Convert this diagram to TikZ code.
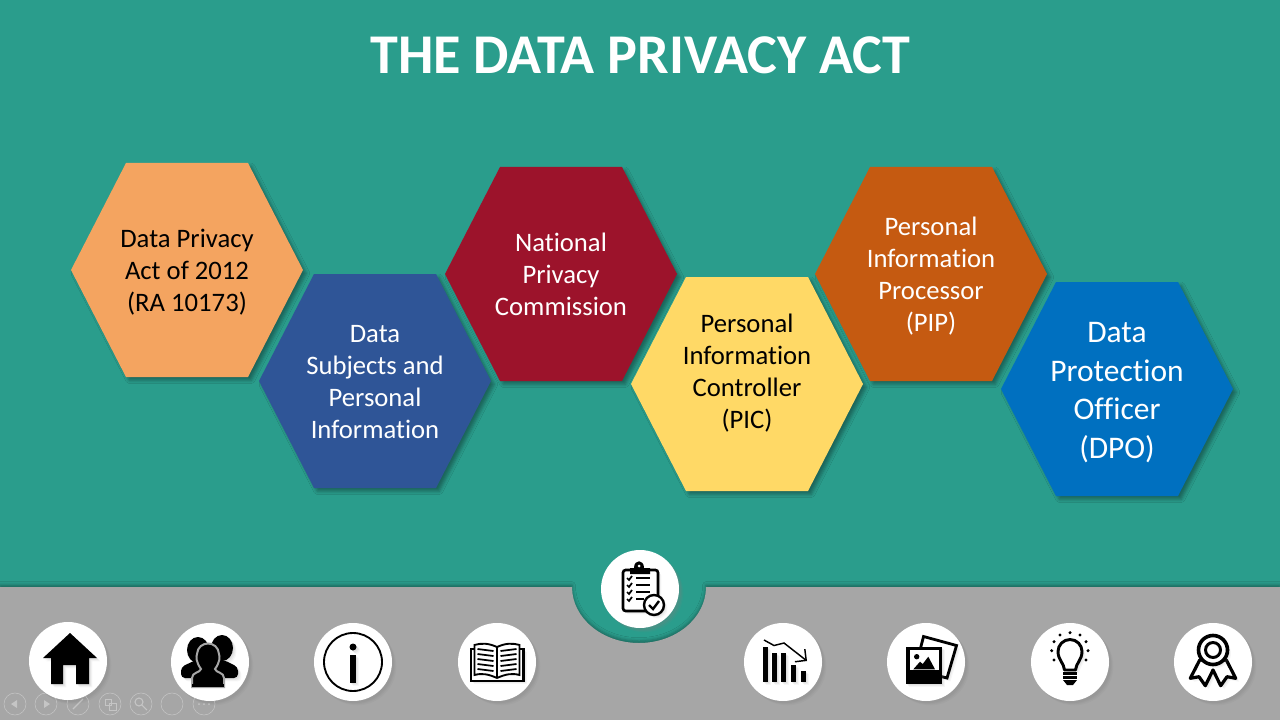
\documentclass[tikz,border=0pt]{standalone}
\usepackage{fontspec}
\setmainfont[Ligatures=NoCommon]{Carlito}
\usetikzlibrary{shadows,shadows.blur,arrows.meta}
\definecolor{teal1}{HTML}{2A9D8C}
\definecolor{panel}{HTML}{A6A6A6}
\definecolor{orange1}{HTML}{F4A460}
\definecolor{navy1}{HTML}{2F5597}
\definecolor{crimson1}{HTML}{9C132B}
\definecolor{yellow1}{HTML}{FFD966}
\definecolor{rust1}{HTML}{C55A11}
\definecolor{blue1}{HTML}{0070C0}
\tikzset{
	hexbox/.style={blur shadow={shadow xshift=2.5pt, shadow yshift=-2.5pt, shadow blur radius=2.5pt, shadow opacity=35}, insert path={(-116,0) -- (-61,-107) -- (61,-107) -- (116,0) -- (61,107) -- (-61,107) -- cycle}},
	hextext/.style={align=center, font=\fontsize{20pt}{24pt}\selectfont},
	disc/.style={circle, fill=white, minimum size=58.5pt, inner sep=0pt, drop shadow={shadow xshift=3.2pt, shadow yshift=-3.2pt, opacity=.1}, drop shadow={shadow xshift=2.4pt, shadow yshift=-2.4pt, opacity=.12}, drop shadow={shadow xshift=1.6pt, shadow yshift=-1.6pt, opacity=.15}},
	toolbtn/.style={circle, draw=white, draw opacity=.35, minimum size=16.5pt, inner sep=0pt},
	soft/.style={drop shadow={shadow xshift=2.6pt, shadow yshift=-2.6pt, opacity=.07}, drop shadow={shadow xshift=1.8pt, shadow yshift=-1.8pt, opacity=.09}, drop shadow={shadow xshift=1pt, shadow yshift=-1pt, opacity=.11}}
}
\begin{document}
\begin{tikzpicture}[x=.75pt, y=-.75pt]
	\useasboundingbox (0,0) rectangle (1280,720);
	\fill [teal1] (0,0) rectangle (1280,720);
	\draw (640.5,55) node [text=white, font=\fontsize{42.1pt}{48pt}\selectfont\bfseries] (title) {THE DATA PRIVACY ACT};

	\fill [orange1, shift={(187,270)}, hexbox];
	\fill [navy1, shift={(375,381)}, hexbox];
	\fill [crimson1, shift={(561,274)}, hexbox];
	\fill [yellow1, shift={(747,384)}, hexbox];
	\fill [rust1, shift={(931,274)}, hexbox];
	\fill [blue1, shift={(1117,389)}, hexbox];

	\draw (187,272) node [hextext] (act) {Data Privacy\\Act of 2012\\(RA 10173)};
	\draw (375,382) node [hextext, text=white] (subjects) {Data\\Subjects and\\Personal\\Information};
	\draw (561,274) node [hextext, text=white] (npc) {National\\Privacy\\Commission};
	\draw (747,373) node [hextext] (pic) {Personal\\Information\\Controller\\(PIC)};
	\draw (931,276) node [hextext, text=white] (pip) {Personal\\Information\\Processor\\(PIP)};
	\draw (1117,392.5) node [hextext, text=white, font=\fontsize{23.6pt}{29pt}\selectfont] (dpo) {Data\\Protection\\Officer\\(DPO)};

	\fill [panel, blur shadow={shadow xshift=0pt, shadow yshift=1.5pt, shadow blur radius=2.5pt, shadow opacity=35}] (0,720) -- (0,587) -- (572,587) arc [start angle=180, end angle=0, x radius=67, y radius=56] -- (1280,587) -- (1280,720) -- cycle;

	\draw (640,589) node [disc] (list) {};
	\draw (68,661) node [disc] (home) {};
	\draw (210,662) node [disc] (people) {};
	\draw (353,662) node [disc] (info) {};
	\draw (497,662) node [disc] (book) {};
	\draw (783,662) node [disc] (chart) {};
	\draw (926,662) node [disc] (photo) {};
	\draw (1070,662) node [disc] (bulb) {};
	\draw (1213,662) node [disc] (ribbon) {};

	\draw (15,704) node [toolbtn] (back) {};
	\draw (46,704) node [toolbtn] (next) {};
	\draw (78,704) node [toolbtn] (pen) {};
	\draw (110,704) node [toolbtn] (slides) {};
	\draw (141,704) node [toolbtn] (zoom) {};
	\draw (172,704) node [toolbtn] (screen) {};
	\draw (204,704) node [toolbtn] (more) {};
	\fill [white, opacity=.35] (11,704) -- (17,700) -- (17,708) -- cycle;
	\fill [white, opacity=.35] (50,704) -- (44,700) -- (44,708) -- cycle;
	\draw [white, opacity=.35, line width=1pt] (73,709) -- (83,699);
	\draw [white, opacity=.35] (105,699) rectangle (111,705) (109,703) rectangle (116,710);
	\draw [white, opacity=.35, line width=.8pt] (139,702) circle [radius=4] (142,705) -- (147,710);
	\fill [white, opacity=.35] (199,704) circle [radius=1] (204,704) circle [radius=1] (209,704) circle [radius=1];

	\fill [soft] (70,633) -- (97,658) -- (89,658) -- (89,684) -- (76,684) -- (76,665) -- (63,665) -- (63,684) -- (51,684) -- (51,658) -- (43,658) -- cycle;

	\fill [soft] (198,650) ellipse [x radius=11, y radius=13];
	\fill [soft] (222,648) ellipse [x radius=11, y radius=13];
	\fill [soft, rounded corners=3pt] (181,678) -- (181,667) -- (196,660) -- (224,660) -- (238,667) -- (238,678) -- cycle;
	\draw [fill=black, draw=panel, line width=1.5pt] (192,687) -- (192,678) .. controls (192,672) and (200,673) .. (201,669) .. controls (196,662) and (196,657) .. (197,654) .. controls (198,640) and (218,640) .. (219,654) .. controls (220,657) and (220,662) .. (215,669) .. controls (216,673) and (224,672) .. (224,678) -- (224,687) -- cycle;
	\fill (192,684) rectangle (224,687);

	\draw [line width=1.4pt] (353,662) circle [radius=29];
	\fill [soft] (353,647) circle [radius=3.5];
	\fill [soft] (350,655) rectangle (356,683);

	\draw [soft, fill=white, line width=2.2pt] (471,649) rectangle (523.5,681);
	\draw [fill=white, line width=1.4pt] (497,678) -- (497,647) .. controls (488,643) and (482,643) .. (474.5,645) -- (474.5,675) .. controls (482,673) and (488,674) .. (497,678);
	\draw [fill=white, line width=1.4pt] (497,678) -- (497,647) .. controls (506,643) and (512,643) .. (519.5,645) -- (519.5,675) .. controls (512,673) and (506,674) .. (497,678);
	\draw [line width=1.3pt] (477.5,649) -- (493.5,651) (477.5,654) -- (493.5,656) (477.5,659) -- (493.5,661) (477.5,664) -- (493.5,666) (477.5,669) -- (493.5,671);
	\draw [line width=1.3pt] (516.5,649) -- (500.5,651) (516.5,654) -- (500.5,656) (516.5,659) -- (500.5,661) (516.5,664) -- (500.5,666) (516.5,669) -- (500.5,671);

	\fill [soft] (763,647) rectangle (768,682);
	\fill [soft] (772,653) rectangle (777,682);
	\fill [soft] (781,653) rectangle (786,682);
	\fill [soft] (791,665) rectangle (796,682);
	\fill [soft] (801,671) rectangle (806,682);
	\draw [line width=1.1pt, -{Straight Barb[length=6pt]}] (764,640) -- (774,645.5) -- (784,643) -- (807,661);

	\draw [soft, fill=white, line width=2.1pt] (923.5,636.5) -- (956.5,645.5) -- (947,678) -- (915,670) -- cycle;
	\fill [soft] (906,647) rectangle (942,683.5);
	\fill [white] (909.5,650) rectangle (938.5,670);
	\fill (913.3,669.3) -- (920,661.7) -- (922.7,664) -- (928.3,656.7) -- (935,669.3) -- cycle;
	\fill (916.7,656.7) circle [radius=2.7];

	\draw [soft, fill=white, line width=2.2pt, line join=round] (1064.5,670) .. controls (1064,663) and (1058,660) .. (1058,651.5) arc [start angle=180, end angle=360, radius=12] .. controls (1082,660) and (1076,663) .. (1075.5,670) -- cycle;
	\draw [line width=1.7pt] (1063,673.5) -- (1077,673.5) (1063,677.5) -- (1077,677.5);
	\fill (1063,680) -- (1077,680) -- (1073,685) -- (1067,685) -- cycle;
	\fill (1070,632.7) circle [radius=1.7] (1060,635) circle [radius=1.7] (1080,635) circle [radius=1.7] (1054,641.7) circle [radius=1.7] (1086,641.7) circle [radius=1.7] (1051.7,650.7) circle [radius=1.7] (1088,650.7) circle [radius=1.7] (1054,660) circle [radius=1.7] (1086,660) circle [radius=1.7];

	\draw [soft, fill=white, line width=2.4pt, line join=round] (1199.7,660) -- (1190.3,678.3) -- (1199,676.7) -- (1205.3,685.7) -- (1213,670) -- (1220.7,685.7) -- (1227,676.7) -- (1235.7,678.3) -- (1226.3,660) -- cycle;
	\draw [soft, fill=white, line width=2.7pt] (1213,650) circle [radius=14.5];
	\draw [line width=2.2pt] (1213,650) circle [radius=7.5];

	\draw [soft, fill=white, line width=2pt, rounded corners=2pt] (623,570) rectangle (658,611);
	\fill (630,568) -- (634,568) .. controls (634,559) and (644,559) .. (644,568) -- (650,568) -- (650,574) -- (630,574) -- cycle;
	\fill [white] (639,566) circle [radius=1.5];
	\draw [line width=1.3pt] (627,578) -- (629,580) -- (632,576) (627,585) -- (629,587) -- (632,583) (627,592) -- (629,594) -- (632,590) (627,599) -- (629,601) -- (632,597);
	\draw [line width=1.5pt] (636,578) -- (650,578) (636,585) -- (650,585) (636,592) -- (650,592) (636,599) -- (644,599);
	\draw [soft, fill=white, line width=1.8pt] (654,605) circle [radius=10];
	\draw [line width=1.8pt] (649,605) -- (653,609) -- (659,601);
\end{tikzpicture}
\end{document}
